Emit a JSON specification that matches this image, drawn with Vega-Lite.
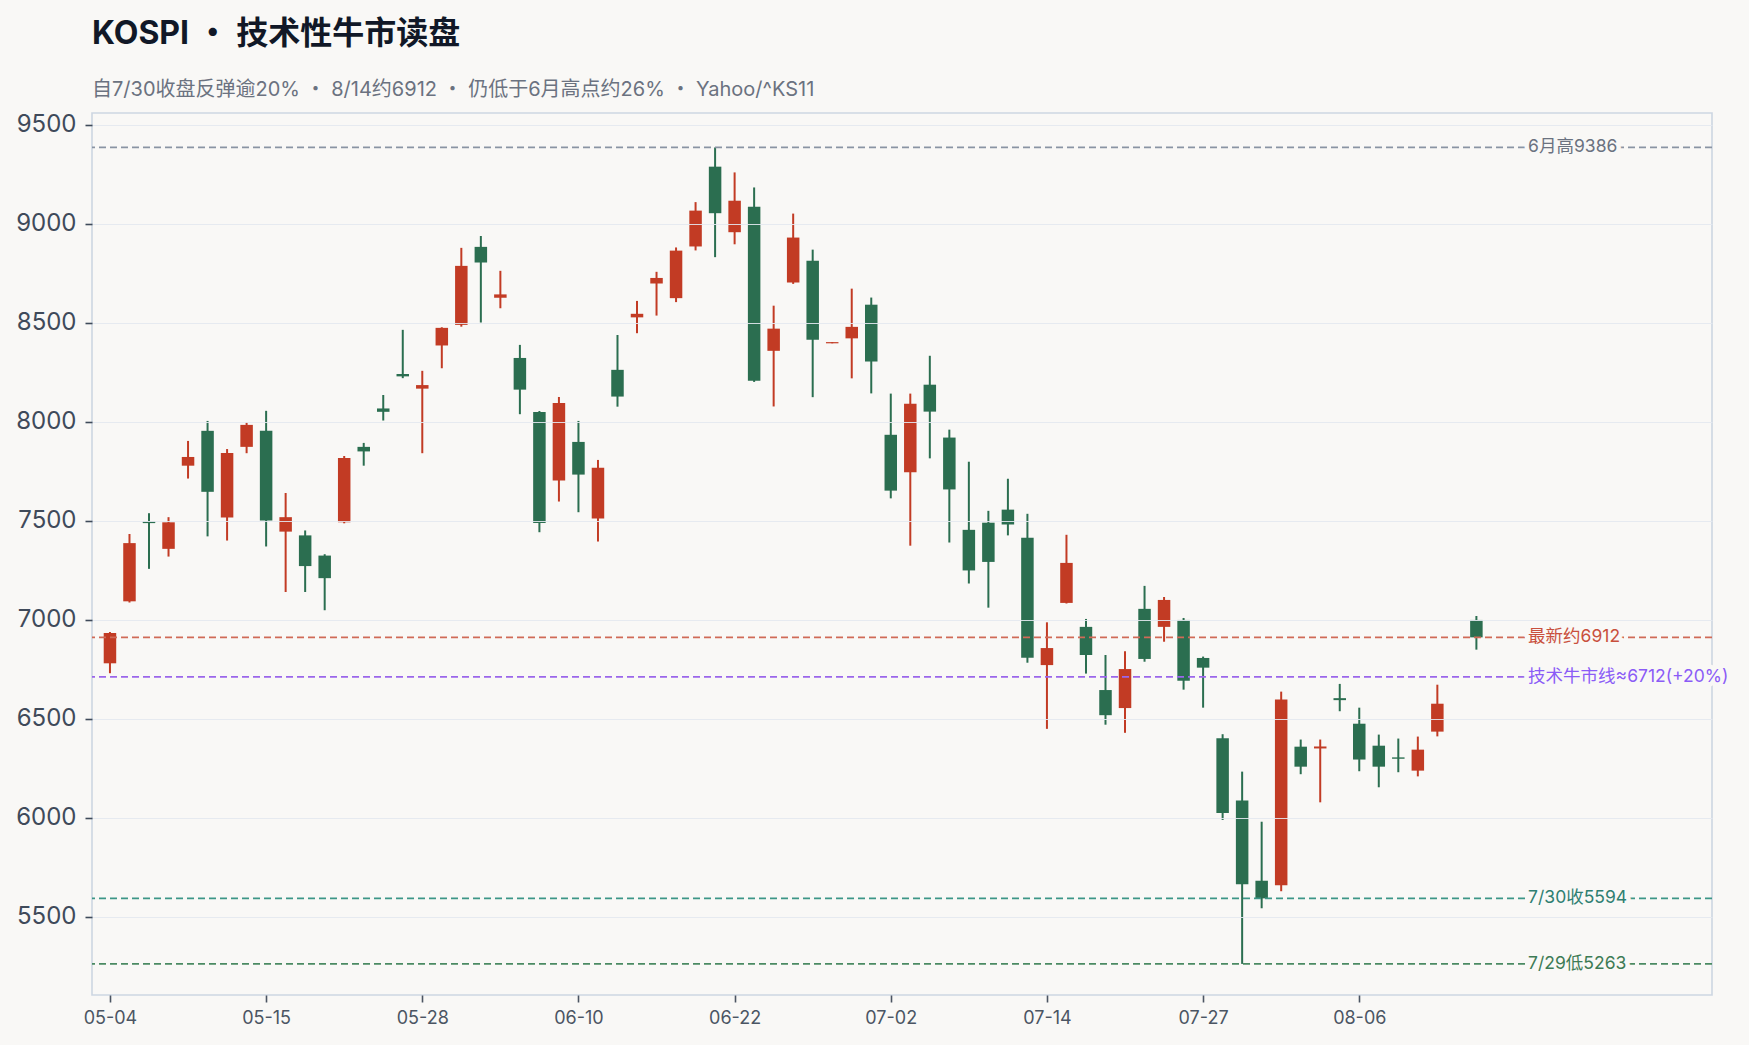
{
  "$schema": "https://vega.github.io/schema/vega-lite/v6.json",
  "width": 1620,
  "height": 882,
  "autosize": {"type": "none"},
  "padding": {"left": 92, "top": 113, "right": 37, "bottom": 50},
  "background": "#f9f8f6",
  "title": {
    "text": "KOSPI ・ 技术性牛市读盘",
    "subtitle": "自7/30收盘反弹逾20% ・ 8/14约6912 ・ 仍低于6月高点约26% ・ Yahoo/^KS11",
    "anchor": "start",
    "frame": "group",
    "font": "Inter, Noto Sans CJK SC",
    "fontSize": 32,
    "fontWeight": "bold",
    "color": "#111827",
    "subtitleFont": "Inter, Noto Sans CJK SC",
    "subtitleFontSize": 20,
    "subtitleColor": "#6b7280",
    "subtitlePadding": 29,
    "offset": 12
  },
  "config": {
    "view": {"stroke": "#cdd6e2", "strokeWidth": 1.6},
    "axis": {"labelFont": "Inter, Noto Sans CJK SC", "domain": false}
  },
  "datasets": {
    "candles": [
      {"i": 0, "date": "05-04", "o": 6781, "h": 6939, "l": 6731, "c": 6934},
      {"i": 1, "date": "05-06", "o": 7094, "h": 7434, "l": 7088, "c": 7388},
      {"i": 2, "date": "05-07", "o": 7498, "h": 7539, "l": 7258, "c": 7489},
      {"i": 3, "date": "05-08", "o": 7359, "h": 7519, "l": 7320, "c": 7493},
      {"i": 4, "date": "05-11", "o": 7779, "h": 7904, "l": 7714, "c": 7823},
      {"i": 5, "date": "05-12", "o": 7955, "h": 8005, "l": 7422, "c": 7647},
      {"i": 6, "date": "05-13", "o": 7517, "h": 7863, "l": 7401, "c": 7843},
      {"i": 7, "date": "05-14", "o": 7874, "h": 7998, "l": 7842, "c": 7985},
      {"i": 8, "date": "05-15", "o": 7955, "h": 8056, "l": 7371, "c": 7502},
      {"i": 9, "date": "05-18", "o": 7446, "h": 7641, "l": 7141, "c": 7519},
      {"i": 10, "date": "05-19", "o": 7427, "h": 7452, "l": 7141, "c": 7272},
      {"i": 11, "date": "05-20", "o": 7325, "h": 7332, "l": 7049, "c": 7211},
      {"i": 12, "date": "05-21", "o": 7493, "h": 7828, "l": 7488, "c": 7818},
      {"i": 13, "date": "05-22", "o": 7874, "h": 7894, "l": 7779, "c": 7851},
      {"i": 14, "date": "05-26", "o": 8068, "h": 8136, "l": 8007, "c": 8051},
      {"i": 15, "date": "05-27", "o": 8242, "h": 8465, "l": 8221, "c": 8230},
      {"i": 16, "date": "05-28", "o": 8168, "h": 8258, "l": 7842, "c": 8186},
      {"i": 17, "date": "05-29", "o": 8386, "h": 8478, "l": 8271, "c": 8475},
      {"i": 18, "date": "06-01", "o": 8490, "h": 8879, "l": 8481, "c": 8788},
      {"i": 19, "date": "06-02", "o": 8884, "h": 8939, "l": 8502, "c": 8805},
      {"i": 20, "date": "06-04", "o": 8627, "h": 8763, "l": 8574, "c": 8644},
      {"i": 21, "date": "06-05", "o": 8323, "h": 8389, "l": 8039, "c": 8163},
      {"i": 22, "date": "06-08", "o": 8050, "h": 8055, "l": 7443, "c": 7490},
      {"i": 23, "date": "06-09", "o": 7704, "h": 8126, "l": 7598, "c": 8095},
      {"i": 24, "date": "06-10", "o": 7899, "h": 8005, "l": 7544, "c": 7734},
      {"i": 25, "date": "06-11", "o": 7512, "h": 7808, "l": 7396, "c": 7768},
      {"i": 26, "date": "06-12", "o": 8263, "h": 8439, "l": 8077, "c": 8128},
      {"i": 27, "date": "06-15", "o": 8528, "h": 8611, "l": 8448, "c": 8546},
      {"i": 28, "date": "06-16", "o": 8699, "h": 8758, "l": 8537, "c": 8727},
      {"i": 29, "date": "06-17", "o": 8625, "h": 8881, "l": 8605, "c": 8865},
      {"i": 30, "date": "06-18", "o": 8886, "h": 9110, "l": 8866, "c": 9067},
      {"i": 31, "date": "06-19", "o": 9289, "h": 9386, "l": 8832, "c": 9054},
      {"i": 32, "date": "06-22", "o": 8958, "h": 9260, "l": 8897, "c": 9117},
      {"i": 33, "date": "06-23", "o": 9087, "h": 9184, "l": 8202, "c": 8208},
      {"i": 34, "date": "06-24", "o": 8359, "h": 8587, "l": 8078, "c": 8471},
      {"i": 35, "date": "06-25", "o": 8704, "h": 9052, "l": 8697, "c": 8931},
      {"i": 36, "date": "06-26", "o": 8814, "h": 8870, "l": 8125, "c": 8415},
      {"i": 37, "date": "06-29", "o": 8397, "h": 8403, "l": 8397, "c": 8403},
      {"i": 38, "date": "06-30", "o": 8422, "h": 8673, "l": 8220, "c": 8480},
      {"i": 39, "date": "07-01", "o": 8592, "h": 8628, "l": 8144, "c": 8305},
      {"i": 40, "date": "07-02", "o": 7935, "h": 8143, "l": 7614, "c": 7653},
      {"i": 41, "date": "07-03", "o": 7746, "h": 8143, "l": 7375, "c": 8092},
      {"i": 42, "date": "07-06", "o": 8188, "h": 8334, "l": 7816, "c": 8052},
      {"i": 43, "date": "07-07", "o": 7921, "h": 7961, "l": 7391, "c": 7659},
      {"i": 44, "date": "07-08", "o": 7455, "h": 7799, "l": 7184, "c": 7250},
      {"i": 45, "date": "07-09", "o": 7491, "h": 7551, "l": 7062, "c": 7293},
      {"i": 46, "date": "07-10", "o": 7557, "h": 7713, "l": 7427, "c": 7482},
      {"i": 47, "date": "07-13", "o": 7415, "h": 7536, "l": 6784, "c": 6809},
      {"i": 48, "date": "07-14", "o": 6772, "h": 6988, "l": 6450, "c": 6858},
      {"i": 49, "date": "07-15", "o": 7086, "h": 7430, "l": 7083, "c": 7288},
      {"i": 50, "date": "07-16", "o": 6965, "h": 7005, "l": 6729, "c": 6823},
      {"i": 51, "date": "07-20", "o": 6646, "h": 6823, "l": 6471, "c": 6519},
      {"i": 52, "date": "07-21", "o": 6555, "h": 6842, "l": 6430, "c": 6752},
      {"i": 53, "date": "07-22", "o": 7056, "h": 7172, "l": 6789, "c": 6803},
      {"i": 54, "date": "07-23", "o": 6965, "h": 7116, "l": 6890, "c": 7101},
      {"i": 55, "date": "07-24", "o": 7000, "h": 7010, "l": 6648, "c": 6693},
      {"i": 56, "date": "07-27", "o": 6808, "h": 6815, "l": 6557, "c": 6759},
      {"i": 57, "date": "07-28", "o": 6403, "h": 6423, "l": 5990, "c": 6025},
      {"i": 58, "date": "07-29", "o": 6088, "h": 6234, "l": 5263, "c": 5665},
      {"i": 59, "date": "07-30", "o": 5683, "h": 5981, "l": 5544, "c": 5594},
      {"i": 60, "date": "07-31", "o": 5660, "h": 6638, "l": 5630, "c": 6598},
      {"i": 61, "date": "08-03", "o": 6360, "h": 6396, "l": 6221, "c": 6259},
      {"i": 62, "date": "08-04", "o": 6351, "h": 6396, "l": 6079, "c": 6361},
      {"i": 63, "date": "08-05", "o": 6605, "h": 6677, "l": 6539, "c": 6595},
      {"i": 64, "date": "08-06", "o": 6476, "h": 6557, "l": 6236, "c": 6295},
      {"i": 65, "date": "08-07", "o": 6365, "h": 6421, "l": 6155, "c": 6259},
      {"i": 66, "date": "08-10", "o": 6306, "h": 6401, "l": 6231, "c": 6299},
      {"i": 67, "date": "08-11", "o": 6239, "h": 6411, "l": 6210, "c": 6345},
      {"i": 68, "date": "08-12", "o": 6436, "h": 6673, "l": 6412, "c": 6577},
      {"i": 70, "date": "08-14", "o": 7000, "h": 7020, "l": 6850, "c": 6912}
    ],
    "levels": [
      {"v": 9386, "kind": "high", "label": "6月高9386"},
      {"v": 6912, "kind": "last", "label": "最新约6912"},
      {"v": 6712, "kind": "bull", "label": "技术牛市线≈6712(+20%)"},
      {"v": 5594, "kind": "close", "label": "7/30收5594"},
      {"v": 5263, "kind": "low", "label": "7/29低5263"}
    ]
  },
  "layer": [
    {
      "data": {"name": "candles"},
      "mark": {"type": "rule", "strokeWidth": 2},
      "encoding": {
        "x": {
          "field": "i",
          "type": "quantitative",
          "scale": {"domain": [-0.92, 82.07], "nice": false, "zero": false, "padding": 0},
          "axis": {
            "values": [0, 8, 16, 24, 32, 40, 48, 56, 64],
            "labelExpr": "['05-04','05-15','05-28','06-10','06-22','07-02','07-14','07-27','08-06'][round(datum.value / 8)]",
            "title": null,
            "labelAngle": 0,
            "labelFontSize": 18,
            "labelColor": "#4b5563",
            "labelFlush": false,
            "tickColor": "#4b5563",
            "tickSize": 7,
            "tickWidth": 1.6,
            "labelPadding": 7,
            "grid": false
          }
        },
        "y": {
          "field": "l",
          "type": "quantitative",
          "scale": {"domain": [5106, 9560], "nice": false, "zero": false},
          "axis": {
            "values": [5500, 6000, 6500, 7000, 7500, 8000, 8500, 9000, 9500],
            "format": "d",
            "title": null,
            "labelFontSize": 24,
            "labelColor": "#3f4a5a",
            "tickColor": "#3f4a5a",
            "tickSize": 7,
            "tickWidth": 1.6,
            "labelPadding": 9,
            "grid": true,
            "gridColor": "#e3e8ef",
            "gridOpacity": 0.9,
            "gridWidth": 1.2,
            "zindex": 1
          }
        },
        "y2": {"field": "h"},
        "color": {"condition": {"test": "datum.c >= datum.o", "value": "#c23b24"}, "value": "#2b6e50"}
      }
    },
    {
      "data": {"name": "candles"},
      "mark": {"type": "bar", "width": 12.5},
      "encoding": {
        "x": {"field": "i", "type": "quantitative"},
        "y": {"field": "o", "type": "quantitative", "title": null},
        "y2": {"field": "c"},
        "color": {"condition": {"test": "datum.c >= datum.o", "value": "#c23b24"}, "value": "#2b6e50"}
      }
    },
    {
      "data": {"name": "levels"},
      "mark": {"type": "rule", "strokeDash": [7, 4], "strokeWidth": 1.7},
      "encoding": {
        "y": {"field": "v", "type": "quantitative", "title": null},
        "color": {
          "field": "kind",
          "type": "nominal",
          "scale": {"domain": ["high", "last", "bull", "close", "low"], "range": ["#8a94a3", "#d06a57", "#9b66ea", "#3d9687", "#4b8a63"]},
          "legend": null
        }
      }
    },
    {
      "data": {"name": "levels"},
      "mark": {"type": "text", "align": "left", "baseline": "middle", "fontSize": 17.5, "font": "Inter, Noto Sans CJK SC", "stroke": "#f9f8f6", "strokeWidth": 9, "strokeJoin": "round", "fill": "#f9f8f6"},
      "encoding": {
        "x": {"datum": 72.65, "type": "quantitative"},
        "y": {"field": "v", "type": "quantitative", "title": null},
        "text": {"field": "label"}
      }
    },
    {
      "data": {"name": "levels"},
      "mark": {"type": "text", "align": "left", "baseline": "middle", "fontSize": 17.5, "font": "Inter, Noto Sans CJK SC"},
      "encoding": {
        "x": {"datum": 72.65, "type": "quantitative"},
        "y": {"field": "v", "type": "quantitative", "title": null},
        "text": {"field": "label"},
        "color": {
          "field": "kind",
          "type": "nominal",
          "scale": {"domain": ["high", "last", "bull", "close", "low"], "range": ["#6b7280", "#c9503d", "#8b5cf6", "#2f7f72", "#3d7b55"]},
          "legend": null
        }
      }
    }
  ],
  "resolve": {"scale": {"color": "independent"}}
}
